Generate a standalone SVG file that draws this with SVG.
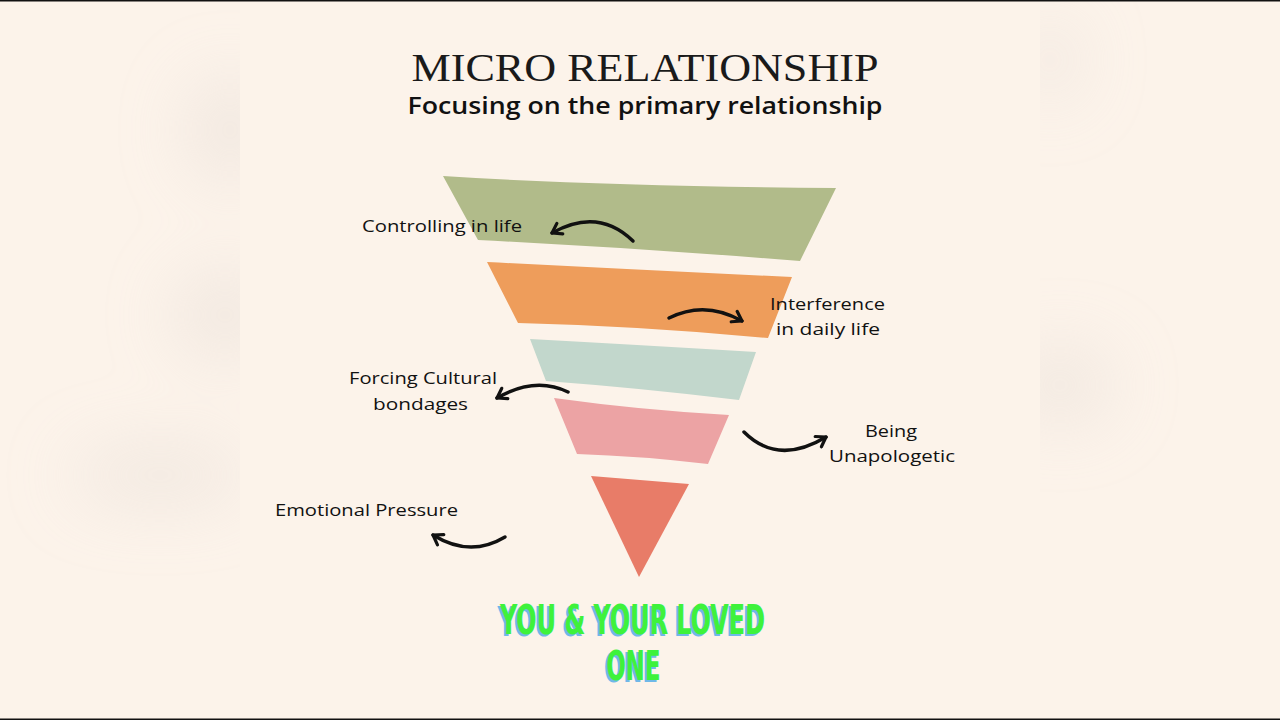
<svg xmlns="http://www.w3.org/2000/svg" width="1280" height="720" viewBox="0 0 1280 720">
<defs>
<style>
.hand{font-family:"Open Sans","Noto Sans","DejaVu Sans",sans-serif;font-size:17px;fill:#111;}
.conn{fill:none;stroke:#111;stroke-width:3.5;stroke-linecap:round;}
.title{font-family:"Liberation Serif","DejaVu Serif",serif;font-size:40px;fill:#1a1a1a;}
.sub{font-family:"Open Sans","Noto Sans",sans-serif;font-size:23px;font-weight:600;fill:#111;}
.big{font-family:"Liberation Sans Narrow","DejaVu Sans Condensed","Liberation Sans",sans-serif;font-weight:bold;font-size:40px;fill:#3ef23b;}
.shadow{fill:#6fb8e8;}
</style>
<marker id="ah" viewBox="0 0 16 16" refX="12" refY="8" markerWidth="16" markerHeight="16" markerUnits="userSpaceOnUse" orient="auto">
<path d="M3,2 L12,8 L3,14" fill="none" stroke="#111" stroke-width="3.2" stroke-linecap="round" stroke-linejoin="round"/>
</marker>
<filter id="blur" x="-50%" y="-50%" width="200%" height="200%"><feGaussianBlur stdDeviation="35"/></filter>
</defs>
<rect x="0" y="0" width="1280" height="720" fill="#fcf3ea"/>
<g id="side-blur" filter="url(#blur)" fill="#e4dbd5" opacity="0.55">
<ellipse cx="230" cy="130" rx="40" ry="50"/>
<ellipse cx="225" cy="315" rx="50" ry="40"/>
<ellipse cx="160" cy="475" rx="90" ry="25"/>
<ellipse cx="1050" cy="60" rx="25" ry="40"/>
<ellipse cx="1060" cy="385" rx="50" ry="35"/>
</g>
<rect x="240" y="0" width="800" height="720" fill="#fcf3ea"/>
<rect x="0" y="0" width="1280" height="1.5" fill="#111"/>
<rect x="0" y="718.5" width="1280" height="1.5" fill="#111"/>

<g id="title">
<text class="title" x="645" y="81" text-anchor="middle" textLength="467" lengthAdjust="spacingAndGlyphs">MICRO RELATIONSHIP</text>
<text class="sub" x="645" y="114" text-anchor="middle" textLength="475" lengthAdjust="spacingAndGlyphs">Focusing on the primary relationship</text>
</g>

<g id="level1"><path d="M443,176 Q600,186 836,188 L800,261 Q640,248 478,240 Z" fill="#b1bb8a"/></g>
<g id="level2"><path d="M487,262 Q640,270 792,277 L768,338 Q640,326 518,323 Z" fill="#ee9d5b"/></g>
<g id="level3"><path d="M530,339 Q640,345 756,352 L739,400 Q640,388 546,381 Z" fill="#c2d7cc"/></g>
<g id="level4"><path d="M554,398 Q640,410 729,415 L708,464 Q640,456 577,454 Z" fill="#eca3a4"/></g>
<g id="level5"><path d="M591,476 L689,484 L639,577 Z" fill="#e87c68"/></g>

<g id="connectors">
<path class="conn" d="M633,241 Q598,207 552,233" marker-end="url(#ah)"/>
<path class="conn" d="M669,318 Q705,300 742,321" marker-end="url(#ah)"/>
<path class="conn" d="M568,392 Q535,376 497,398" marker-end="url(#ah)"/>
<path class="conn" d="M744,432 Q778,466 826,437" marker-end="url(#ah)"/>
<path class="conn" d="M505,537 Q470,558 433,535" marker-end="url(#ah)"/>
</g>

<g id="label-controlling"><text class="hand" x="362" y="232" textLength="160" lengthAdjust="spacingAndGlyphs">Controlling in life</text></g>
<g id="label-interference">
<text class="hand" x="770" y="310" textLength="115" lengthAdjust="spacingAndGlyphs">Interference</text>
<text class="hand" x="776" y="335" textLength="104" lengthAdjust="spacingAndGlyphs">in daily life</text>
</g>
<g id="label-forcing">
<text class="hand" x="349" y="384" textLength="148" lengthAdjust="spacingAndGlyphs">Forcing Cultural</text>
<text class="hand" x="373" y="410" textLength="95" lengthAdjust="spacingAndGlyphs">bondages</text>
</g>
<g id="label-being">
<text class="hand" x="865" y="437" textLength="52" lengthAdjust="spacingAndGlyphs">Being</text>
<text class="hand" x="829" y="462" textLength="126" lengthAdjust="spacingAndGlyphs">Unapologetic</text>
</g>
<g id="label-emotional"><text class="hand" x="275" y="516" textLength="183" lengthAdjust="spacingAndGlyphs">Emotional Pressure</text></g>

<g id="base-label">
<text class="big shadow" x="630" y="636" text-anchor="middle" textLength="265" lengthAdjust="spacingAndGlyphs">YOU &amp; YOUR LOVED</text>
<text class="big shadow" x="631" y="682" text-anchor="middle" textLength="54" lengthAdjust="spacingAndGlyphs">ONE</text>
<text class="big" x="632.5" y="634" text-anchor="middle" textLength="265" lengthAdjust="spacingAndGlyphs">YOU &amp; YOUR LOVED</text>
<text class="big" x="633.5" y="680" text-anchor="middle" textLength="54" lengthAdjust="spacingAndGlyphs">ONE</text>
</g>
</svg>
